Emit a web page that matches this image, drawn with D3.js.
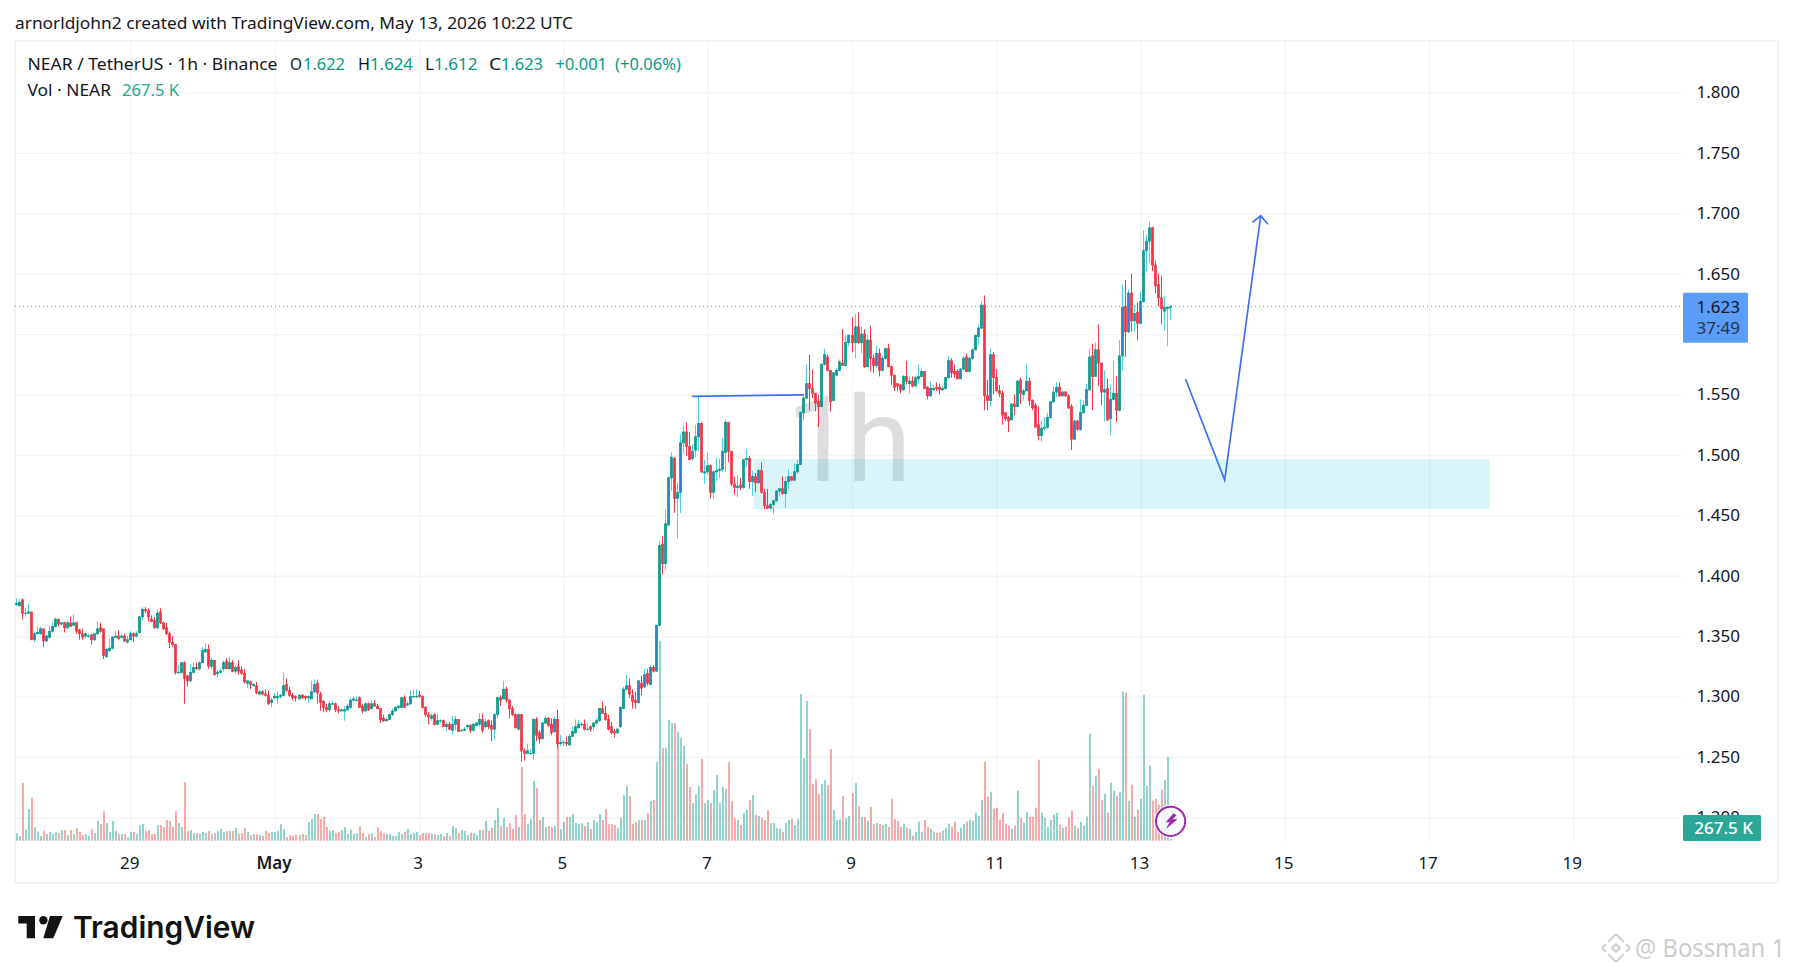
<!DOCTYPE html>
<html>
<head>
<meta charset="utf-8">
<title>NEAR / TetherUS</title>
<script src="https://cdn.jsdelivr.net/npm/d3@7"></script>
<style>
  html, body { margin: 0; padding: 0; background: #fff; }
  svg { display: block; }
  text { font-family: "Noto Sans", sans-serif; }
</style>
</head>
<body>
<svg id="chart" width="1793" height="973"></svg>
<script>
// hourly candles, first one is Apr 27 2026 10:00 UTC
const firstBar = Date.UTC(2026, 3, 27, 10);

const opens = [
1.376,1.375,1.380,1.369,1.369,1.370,1.347,1.352,1.352,1.356,1.346,1.349,1.354,1.358,1.364,1.360,1.361,1.357,1.361,1.359,
1.361,1.355,1.352,1.350,1.350,1.351,1.347,1.352,1.357,1.356,1.333,1.338,1.340,1.349,1.350,1.349,1.350,1.345,1.347,1.352,
1.350,1.353,1.366,1.372,1.371,1.364,1.363,1.357,1.370,1.361,1.357,1.352,1.345,1.343,1.320,1.320,1.328,1.317,1.313,1.320,
1.324,1.323,1.328,1.337,1.339,1.325,1.330,1.319,1.320,1.323,1.329,1.323,1.328,1.321,1.325,1.322,1.319,1.311,1.312,1.309,
1.309,1.302,1.304,1.302,1.301,1.295,1.299,1.299,1.300,1.301,1.310,1.305,1.301,1.300,1.298,1.301,1.300,1.299,1.298,1.304,
1.311,1.302,1.296,1.291,1.289,1.294,1.294,1.289,1.288,1.288,1.289,1.291,1.297,1.297,1.299,1.292,1.288,1.294,1.290,1.294,
1.292,1.290,1.282,1.280,1.281,1.285,1.288,1.291,1.291,1.299,1.293,1.294,1.300,1.300,1.301,1.300,1.291,1.285,1.282,1.285,
1.277,1.280,1.280,1.275,1.277,1.272,1.277,1.281,1.272,1.272,1.275,1.276,1.272,1.276,1.277,1.281,1.275,1.280,1.276,1.273,
1.285,1.299,1.298,1.306,1.297,1.290,1.285,1.273,1.285,1.255,1.253,1.253,1.253,1.281,1.270,1.265,1.278,1.282,1.277,1.271,
1.281,1.261,1.262,1.262,1.260,1.267,1.270,1.274,1.277,1.277,1.273,1.275,1.275,1.278,1.280,1.290,1.286,1.281,1.275,1.271,
1.270,1.275,1.290,1.306,1.309,1.301,1.297,1.295,1.311,1.308,1.319,1.310,1.324,1.321,1.359,1.426,1.410,1.442,1.481,1.497,
1.464,1.469,1.510,1.519,1.507,1.497,1.504,1.515,1.526,1.485,1.486,1.491,1.469,1.486,1.487,1.488,1.502,1.527,1.503,1.476,
1.473,1.475,1.473,1.496,1.497,1.478,1.482,1.477,1.487,1.469,1.458,1.456,1.459,1.462,1.470,1.472,1.468,1.478,1.482,1.479,
1.486,1.492,1.535,1.547,1.559,1.555,1.551,1.544,1.540,1.575,1.581,1.570,1.545,1.566,1.570,1.576,1.574,1.593,1.599,1.593,
1.606,1.593,1.600,1.573,1.595,1.580,1.574,1.584,1.570,1.580,1.588,1.573,1.566,1.559,1.558,1.554,1.565,1.559,1.561,1.557,
1.563,1.565,1.569,1.556,1.549,1.554,1.556,1.556,1.554,1.555,1.564,1.578,1.569,1.569,1.563,1.571,1.581,1.569,1.580,1.587,
1.598,1.605,1.624,1.549,1.545,1.583,1.564,1.553,1.551,1.535,1.531,1.529,1.542,1.540,1.562,1.550,1.553,1.561,1.545,1.541,
1.525,1.516,1.522,1.523,1.531,1.544,1.552,1.556,1.549,1.552,1.549,1.540,1.513,1.528,1.521,1.535,1.541,1.554,1.582,1.565,
1.587,1.576,1.552,1.555,1.530,1.546,1.551,1.537,1.582,1.623,1.602,1.634,1.611,1.618,1.609,1.627,1.669,1.677,1.688,1.657,
1.641,1.630,1.619,1.621,1.622
];
const closes = [
1.377,1.378,1.369,1.369,1.370,1.347,1.352,1.353,1.356,1.346,1.350,1.354,1.358,1.364,1.360,1.361,1.357,1.361,1.358,1.361,
1.354,1.352,1.349,1.352,1.350,1.347,1.352,1.356,1.354,1.334,1.339,1.340,1.349,1.350,1.348,1.350,1.346,1.347,1.352,1.350,
1.352,1.366,1.372,1.371,1.366,1.362,1.357,1.369,1.361,1.356,1.352,1.345,1.343,1.320,1.320,1.328,1.315,1.313,1.320,1.324,
1.323,1.328,1.338,1.339,1.325,1.330,1.318,1.320,1.321,1.328,1.323,1.328,1.321,1.324,1.321,1.319,1.312,1.313,1.310,1.310,
1.303,1.304,1.302,1.301,1.294,1.297,1.300,1.300,1.301,1.309,1.305,1.301,1.299,1.299,1.301,1.299,1.299,1.300,1.304,1.310,
1.303,1.295,1.291,1.289,1.294,1.294,1.289,1.288,1.289,1.289,1.292,1.297,1.298,1.297,1.291,1.288,1.294,1.289,1.294,1.292,
1.290,1.281,1.280,1.281,1.285,1.288,1.291,1.292,1.299,1.291,1.294,1.300,1.300,1.300,1.300,1.291,1.285,1.283,1.284,1.277,
1.280,1.280,1.275,1.277,1.273,1.277,1.281,1.271,1.272,1.273,1.276,1.272,1.277,1.278,1.281,1.272,1.279,1.275,1.273,1.285,
1.299,1.297,1.306,1.297,1.290,1.285,1.274,1.285,1.255,1.253,1.255,1.253,1.281,1.268,1.265,1.278,1.282,1.276,1.270,1.281,
1.261,1.262,1.262,1.261,1.267,1.271,1.275,1.277,1.277,1.273,1.273,1.273,1.278,1.280,1.290,1.286,1.281,1.273,1.270,1.270,
1.273,1.291,1.306,1.309,1.302,1.296,1.295,1.313,1.307,1.318,1.311,1.324,1.321,1.359,1.425,1.410,1.443,1.481,1.498,1.464,
1.469,1.510,1.519,1.507,1.496,1.503,1.515,1.526,1.486,1.486,1.491,1.469,1.486,1.487,1.488,1.503,1.527,1.503,1.476,1.473,
1.474,1.473,1.496,1.497,1.478,1.482,1.477,1.487,1.469,1.458,1.456,1.459,1.462,1.470,1.472,1.468,1.478,1.482,1.479,1.486,
1.492,1.535,1.547,1.559,1.555,1.551,1.543,1.540,1.575,1.583,1.570,1.544,1.568,1.570,1.577,1.574,1.593,1.599,1.593,1.606,
1.593,1.600,1.573,1.595,1.580,1.574,1.584,1.570,1.580,1.588,1.573,1.566,1.556,1.557,1.554,1.565,1.561,1.561,1.557,1.564,
1.565,1.569,1.555,1.549,1.555,1.555,1.555,1.554,1.555,1.564,1.578,1.568,1.567,1.563,1.571,1.580,1.569,1.580,1.587,1.599,
1.605,1.624,1.549,1.545,1.583,1.564,1.553,1.551,1.533,1.530,1.528,1.542,1.540,1.561,1.551,1.553,1.561,1.545,1.539,1.523,
1.516,1.522,1.523,1.531,1.544,1.552,1.556,1.549,1.552,1.549,1.539,1.513,1.528,1.521,1.535,1.541,1.554,1.581,1.565,1.587,
1.576,1.552,1.554,1.529,1.546,1.551,1.537,1.582,1.622,1.602,1.634,1.611,1.617,1.609,1.627,1.669,1.677,1.688,1.657,1.640,
1.630,1.621,1.622,1.622,1.623
];
const highs = [
1.381,1.381,1.381,1.373,1.377,1.370,1.354,1.358,1.358,1.356,1.351,1.358,1.361,1.365,1.364,1.361,1.362,1.363,1.366,1.368,
1.362,1.356,1.356,1.352,1.352,1.352,1.352,1.362,1.361,1.356,1.340,1.348,1.350,1.354,1.355,1.352,1.352,1.350,1.354,1.353,
1.354,1.366,1.374,1.374,1.373,1.367,1.366,1.372,1.373,1.362,1.361,1.354,1.350,1.343,1.326,1.328,1.329,1.318,1.327,1.328,
1.328,1.329,1.341,1.344,1.343,1.332,1.330,1.322,1.323,1.330,1.332,1.333,1.330,1.326,1.330,1.325,1.323,1.314,1.313,1.311,
1.312,1.305,1.305,1.306,1.305,1.299,1.303,1.304,1.302,1.320,1.315,1.308,1.303,1.301,1.302,1.302,1.301,1.301,1.313,1.314,
1.314,1.304,1.297,1.294,1.296,1.296,1.295,1.292,1.290,1.292,1.294,1.299,1.300,1.300,1.300,1.294,1.295,1.295,1.297,1.297,
1.294,1.290,1.285,1.282,1.286,1.290,1.292,1.293,1.300,1.301,1.296,1.305,1.306,1.306,1.305,1.301,1.292,1.287,1.286,1.286,
1.286,1.281,1.281,1.279,1.279,1.284,1.284,1.281,1.273,1.275,1.277,1.277,1.278,1.279,1.286,1.286,1.282,1.281,1.280,1.286,
1.300,1.301,1.313,1.308,1.298,1.292,1.286,1.286,1.285,1.257,1.261,1.256,1.282,1.283,1.272,1.279,1.284,1.283,1.282,1.283,
1.289,1.268,1.264,1.267,1.269,1.275,1.281,1.281,1.279,1.281,1.278,1.276,1.279,1.282,1.290,1.296,1.292,1.285,1.279,1.273,
1.274,1.292,1.308,1.318,1.315,1.306,1.304,1.313,1.317,1.323,1.323,1.326,1.326,1.359,1.429,1.433,1.455,1.482,1.502,1.498,
1.477,1.517,1.524,1.527,1.519,1.509,1.525,1.548,1.527,1.496,1.502,1.492,1.487,1.498,1.497,1.514,1.529,1.527,1.503,1.482,
1.483,1.481,1.496,1.505,1.499,1.487,1.485,1.488,1.494,1.472,1.472,1.460,1.463,1.471,1.473,1.482,1.482,1.488,1.482,1.493,
1.496,1.536,1.550,1.575,1.583,1.571,1.551,1.550,1.576,1.588,1.583,1.570,1.568,1.572,1.579,1.604,1.599,1.600,1.614,1.617,
1.618,1.606,1.604,1.599,1.607,1.583,1.590,1.588,1.582,1.589,1.592,1.574,1.566,1.559,1.558,1.566,1.578,1.565,1.565,1.566,
1.575,1.571,1.569,1.557,1.561,1.558,1.560,1.559,1.557,1.564,1.582,1.580,1.575,1.571,1.572,1.582,1.584,1.581,1.588,1.599,
1.608,1.627,1.632,1.562,1.588,1.585,1.571,1.558,1.553,1.535,1.532,1.543,1.550,1.562,1.564,1.555,1.575,1.564,1.546,1.543,
1.540,1.528,1.531,1.535,1.544,1.557,1.560,1.560,1.553,1.553,1.550,1.542,1.529,1.529,1.546,1.545,1.559,1.588,1.592,1.593,
1.608,1.576,1.570,1.563,1.558,1.578,1.565,1.595,1.641,1.645,1.637,1.650,1.624,1.626,1.635,1.686,1.682,1.693,1.689,1.661,
1.650,1.648,1.632,1.623,1.624
];
const lows = [
1.375,1.375,1.364,1.366,1.368,1.347,1.345,1.352,1.351,1.341,1.345,1.348,1.353,1.357,1.358,1.359,1.353,1.355,1.358,1.359,
1.352,1.347,1.347,1.348,1.349,1.343,1.346,1.351,1.353,1.331,1.332,1.337,1.339,1.349,1.347,1.348,1.345,1.344,1.347,1.345,
1.349,1.352,1.363,1.369,1.362,1.362,1.356,1.356,1.360,1.355,1.351,1.340,1.341,1.318,1.319,1.319,1.294,1.308,1.312,1.319,
1.322,1.321,1.328,1.336,1.323,1.323,1.318,1.316,1.319,1.321,1.323,1.322,1.320,1.319,1.318,1.318,1.311,1.307,1.306,1.308,
1.302,1.301,1.301,1.300,1.293,1.291,1.298,1.294,1.298,1.300,1.304,1.300,1.297,1.296,1.298,1.298,1.297,1.295,1.298,1.303,
1.294,1.288,1.287,1.287,1.287,1.293,1.287,1.286,1.288,1.280,1.288,1.290,1.296,1.296,1.291,1.286,1.288,1.288,1.289,1.292,
1.290,1.278,1.279,1.279,1.281,1.284,1.288,1.290,1.290,1.291,1.292,1.293,1.299,1.299,1.299,1.290,1.283,1.277,1.280,1.276,
1.276,1.278,1.275,1.271,1.272,1.268,1.272,1.271,1.271,1.272,1.273,1.270,1.271,1.275,1.275,1.270,1.274,1.273,1.263,1.264,
1.282,1.292,1.298,1.295,1.282,1.284,1.274,1.272,1.246,1.247,1.252,1.252,1.248,1.263,1.261,1.265,1.277,1.275,1.268,1.270,
1.257,1.259,1.259,1.259,1.259,1.267,1.269,1.274,1.275,1.272,1.272,1.271,1.272,1.277,1.279,1.286,1.280,1.272,1.269,1.266,
1.269,1.274,1.290,1.305,1.299,1.290,1.290,1.294,1.301,1.307,1.309,1.309,1.320,1.320,1.358,1.401,1.405,1.441,1.470,1.452,
1.431,1.452,1.501,1.499,1.496,1.495,1.498,1.503,1.485,1.476,1.483,1.464,1.464,1.478,1.481,1.486,1.486,1.494,1.474,1.467,
1.465,1.471,1.472,1.490,1.472,1.466,1.469,1.476,1.468,1.455,1.455,1.455,1.451,1.461,1.466,1.467,1.456,1.472,1.479,1.479,
1.484,1.492,1.529,1.546,1.537,1.547,1.536,1.523,1.540,1.574,1.569,1.536,1.544,1.565,1.569,1.574,1.573,1.590,1.585,1.580,
1.592,1.584,1.572,1.573,1.569,1.568,1.572,1.565,1.569,1.579,1.573,1.558,1.553,1.553,1.551,1.553,1.558,1.551,1.556,1.557,
1.559,1.564,1.555,1.546,1.548,1.553,1.553,1.550,1.553,1.554,1.563,1.564,1.564,1.563,1.563,1.570,1.569,1.569,1.579,1.587,
1.591,1.604,1.537,1.537,1.540,1.550,1.553,1.548,1.525,1.528,1.519,1.529,1.533,1.540,1.542,1.545,1.553,1.541,1.537,1.523,
1.512,1.511,1.520,1.521,1.530,1.543,1.548,1.548,1.548,1.548,1.538,1.504,1.512,1.520,1.520,1.534,1.540,1.553,1.537,1.565,
1.557,1.541,1.528,1.528,1.516,1.545,1.527,1.536,1.570,1.581,1.601,1.602,1.602,1.595,1.608,1.626,1.652,1.659,1.652,1.634,
1.623,1.608,1.603,1.590,1.612
];
// volume in thousands of NEAR
const volumes = [
1100,700,8650,1700,4750,6400,2000,1350,700,1450,1000,1300,1000,1250,1150,1600,1600,850,1600,1000,
1900,1300,850,1000,700,1750,1150,2950,2500,4450,2650,1300,2950,1450,1000,1000,1000,550,1300,1300,
1000,2350,2500,1450,1600,1000,1000,2350,2350,2050,3100,2950,2050,4450,2650,2050,8800,1450,1600,1150,
1150,1000,1300,1150,1450,1000,1150,1450,1750,1300,1450,1450,1450,1900,1000,1150,1900,1300,850,1000,
1000,850,700,1450,1150,1300,1300,1450,2500,1750,550,850,700,850,850,1000,850,2800,3250,4000,
4000,3250,3550,2050,1450,1600,1150,1300,1600,2050,1000,1600,1000,1150,2200,1150,550,1000,1150,550,
2050,1450,1150,1000,1000,700,700,1300,1000,1300,1750,1000,1150,1300,850,1150,1150,1150,1000,1000,
850,1000,700,1150,700,2200,1900,1150,1600,1450,850,1150,1150,850,1600,1600,2950,1450,1900,3100,
4900,2200,3400,2050,2650,1750,3850,2050,11050,4000,2500,3250,8950,7900,3100,3550,2050,2200,2050,2200,
14600,1750,2800,3550,3550,4000,2650,2500,2650,2200,2800,1750,3100,2800,4000,3100,4750,2500,2500,2350,
1900,3400,6850,8200,6700,2500,2800,3100,3100,3100,4150,5950,6100,11800,29950,13900,13900,18100,17650,17650,
16300,15400,14200,11500,8050,5650,7000,8200,12250,5650,6100,5650,7600,9850,5650,8050,7750,11800,5950,3400,
3100,2350,4150,4600,6100,6850,3850,3700,3400,3100,4600,2650,2650,1900,1750,1300,2650,3100,3250,2350,
3250,22000,12400,20950,16750,8500,9250,7000,8500,9100,8350,13750,4600,3100,3250,6700,3400,3700,7150,8650,
5200,3550,3550,2950,5050,2500,2650,2500,2350,2500,2050,6250,3250,3000,2100,2550,1950,1800,750,1350,
2850,1350,3150,2100,1800,1350,1200,1200,1500,1950,2550,2100,2850,1350,1950,2550,2850,3150,3000,4200,
3750,6150,11850,6600,7350,4800,4950,3150,4200,2550,2250,1800,2250,7500,3450,2700,4350,3600,3600,4950,
12150,4200,3450,2100,3150,3900,4200,2400,1950,2100,3450,4500,2250,1950,2850,2250,3600,16050,8250,9750,
10800,6150,7050,4200,8700,7500,6750,7350,22350,22200,6000,8400,3600,4650,6300,21900,8250,11250,6000,6300,
5400,7650,9150,12600,267.5
];

const dayTicks = [
  Date.UTC(2026, 3, 29), Date.UTC(2026, 4, 1), Date.UTC(2026, 4, 3), Date.UTC(2026, 4, 5), Date.UTC(2026, 4, 7),
  Date.UTC(2026, 4, 9), Date.UTC(2026, 4, 11), Date.UTC(2026, 4, 13), Date.UTC(2026, 4, 15), Date.UTC(2026, 4, 17),
  Date.UTC(2026, 4, 19)
];
const priceTicks = [1.2, 1.25, 1.3, 1.35, 1.4, 1.45, 1.5, 1.55, 1.6, 1.65, 1.7, 1.75, 1.8];
const lastPrice = 1.623;
const lastVolume = 267.5;

// drawings on the chart, [bar number, price]
const resistanceLine = [[224.8, 1.5484], [261.9, 1.5497]];
const forecastLine = [[389, 1.5626], [402, 1.4792], [414, 1.698]];
const arrowHead = [[411.2, 1.6925], [414, 1.698], [416.4, 1.6909]];
const zoneBars = [245.2, 490.2];
const zonePrices = [1.4966, 1.4552];

const ink = "#131722";
const teal = "#089981";
const gridColor = "#f1f3f6";
const blue = "#5b9cf6";
const lineBlue = "#3f6ff2";

const svg = d3.select("#chart");
const barTime = i => new Date(firstBar + i * 3600000);

const x = d3.scaleUtc()
  .domain([new Date(dayTicks[0]), new Date(dayTicks[10])])
  .range([130.7, 1573.3]);
const y = d3.scaleLinear().domain([1.2, 1.8]).range([817.3, 92.5]);
const yVol = d3.scaleLinear().domain([0, 30000]).range([840.7, 640.7]);

const bars = opens.map((o, i) => ({
  i: i, o: o, c: closes[i], h: highs[i], l: lows[i], v: volumes[i],
  up: closes[i] >= o,
  px: Math.floor(x(barTime(i))) + 0.5
}));

// title above the frame
function label(txt, px, py, width, color, size) {
  return svg.append("text")
    .attr("x", px).attr("y", py)
    .attr("font-size", size || 16)
    .attr("fill", color || ink)
    .attr("textLength", width)
    .attr("lengthAdjust", "spacingAndGlyphs")
    .text(txt);
}
label("arnorldjohn2 created with TradingView.com, May 13, 2026 10:22 UTC", 15, 28.5, 558, ink, 16);

svg.append("rect")
  .attr("x", 15).attr("y", 41).attr("width", 1763).attr("height", 842)
  .attr("fill", "#fff").attr("stroke", "#f2f3f5").attr("stroke-width", 2);

// grid comes from the axes with long ticks
svg.append("g")
  .attr("transform", "translate(0,841)")
  .call(d3.axisTop(x).tickValues(dayTicks.map(d => new Date(d))).tickSize(800).tickFormat(""))
  .call(g => g.select(".domain").remove())
  .call(g => g.selectAll("line").attr("stroke", gridColor).attr("stroke-width", 1.2));
svg.append("g")
  .attr("transform", "translate(15,0)")
  .call(d3.axisRight(y).tickValues(priceTicks).tickSize(1667).tickFormat(""))
  .call(g => g.select(".domain").remove())
  .call(g => g.selectAll("line").attr("stroke", gridColor).attr("stroke-width", 1.2));

// big interval watermark
svg.append("text")
  .attr("x", 786).attr("y", 481)
  .attr("font-size", 119)
  .attr("letter-spacing", -7)
  .attr("fill", "#dddde0")
  .style("font-family", "Roboto, sans-serif")
  .text("1h");

// demand zone
svg.append("rect")
  .attr("x", x(barTime(zoneBars[0])))
  .attr("y", y(zonePrices[0]))
  .attr("width", x(barTime(zoneBars[1])) - x(barTime(zoneBars[0])))
  .attr("height", y(zonePrices[1]) - y(zonePrices[0]))
  .attr("fill", "#00bcd4")
  .attr("fill-opacity", 0.145);

// volume
svg.append("g").selectAll("rect")
  .data(bars)
  .enter()
  .append("rect")
  .attr("x", d => d.px - 0.5)
  .attr("y", d => yVol(d.v))
  .attr("width", 2)
  .attr("height", d => yVol(0) - yVol(d.v))
  .attr("fill", d => d.up ? "rgba(38,166,154,0.5)" : "rgba(239,83,80,0.5)");

// candles
const candle = svg.append("g").selectAll("g")
  .data(bars)
  .enter()
  .append("g");
candle.append("line")
  .attr("x1", d => d.px).attr("x2", d => d.px)
  .attr("y1", d => y(d.h)).attr("y2", d => y(d.l))
  .attr("stroke", d => d.up ? "#4dd0e1" : "#f23645")
  .attr("stroke-width", 1);
candle.append("rect")
  .attr("x", d => d.px - 0.85)
  .attr("y", d => y(Math.max(d.o, d.c)))
  .attr("width", 1.7)
  .attr("height", d => Math.max(0.4, Math.abs(y(d.o) - y(d.c))))
  .attr("fill", d => d.up ? "#2f86d6" : "#f23645")
  .attr("stroke", d => d.up ? teal : "#f23645")
  .attr("stroke-width", 0.9);

// last price line
svg.append("line")
  .attr("x1", 15).attr("x2", 1682)
  .attr("y1", y(lastPrice)).attr("y2", y(lastPrice))
  .attr("stroke", blue)
  .attr("stroke-width", 1)
  .attr("stroke-dasharray", "1 3");

// hand drawn lines
const drawn = d3.line().x(d => x(barTime(d[0]))).y(d => y(d[1]));
[resistanceLine, forecastLine, arrowHead].forEach(pts => {
  svg.append("path")
    .attr("d", drawn(pts))
    .attr("fill", "none")
    .attr("stroke", lineBlue)
    .attr("stroke-width", 1.7);
});

// axes
svg.append("g")
  .attr("transform", "translate(-1.5,857)")
  .call(d3.axisBottom(x)
    .tickValues(dayTicks.map(d => new Date(d)))
    .tickSize(0).tickPadding(0)
    .tickFormat(d => d.getUTCDate() === 1 ? "May" : String(d.getUTCDate())))
  .call(g => g.select(".domain").remove())
  .call(g => g.selectAll("text")
    .attr("font-size", 17)
    .attr("fill", ink)
    .style("font-family", "'Noto Sans', sans-serif")
    .attr("font-weight", d => new Date(d).getUTCDate() === 1 ? 600 : 400));
svg.append("g")
  .attr("transform", "translate(1740,0)")
  .call(d3.axisLeft(y).tickValues(priceTicks).tickSize(0).tickPadding(0).tickFormat(d3.format(".3f")))
  .call(g => g.select(".domain").remove())
  .call(g => g.selectAll("text")
    .attr("font-size", 17)
    .attr("fill", ink)
    .style("font-family", "'Noto Sans', sans-serif"));

// price and volume tags on the right
svg.append("rect")
  .attr("x", 1683).attr("y", y(lastPrice) - 13.6).attr("width", 65).attr("height", 50)
  .attr("rx", 1.5).attr("fill", blue);
svg.append("text").attr("x", 1740).attr("y", y(lastPrice) + 6.5)
  .attr("text-anchor", "end").attr("font-size", 17).attr("fill", ink)
  .text(d3.format(".3f")(lastPrice));
svg.append("text").attr("x", 1740).attr("y", y(lastPrice) + 27.5)
  .attr("text-anchor", "end").attr("font-size", 17).attr("fill", "#2a3347")
  .text("37:49");

svg.append("rect")
  .attr("x", 1683).attr("y", 815).attr("width", 78).attr("height", 26)
  .attr("rx", 1.5).attr("fill", "#2ba797");
svg.append("text").attr("x", 1753).attr("y", 834)
  .attr("text-anchor", "end").attr("font-size", 17).attr("font-weight", 500).attr("fill", "#fff")
  .text(lastVolume + " K");

// legend
label("NEAR / TetherUS · 1h · Binance", 27.5, 69.5, 250);
label("O", 290, 69.5, 12);
label("1.622", 303, 69.5, 42, teal);
label("H", 358, 69.5, 12);
label("1.624", 370, 69.5, 43, teal);
label("L", 425, 69.5, 9);
label("1.612", 434, 69.5, 43.5, teal);
label("C", 489, 69.5, 12);
label("1.623", 501, 69.5, 42, teal);
label("+0.001", 555.5, 69.5, 51.5, teal);
label("(+0.06%)", 615, 69.5, 66, teal);
label("Vol · NEAR", 27.5, 95.5, 83.5);
label("267.5 K", 122, 95.5, 57, "#22ab94");

// lightning badge on the last bar
const badge = svg.append("g")
  .attr("transform", "translate(" + x(barTime(opens.length - 1)) + ",821.3)");
badge.append("circle").attr("r", 16.5).attr("fill", "#fff").attr("fill-opacity", 0.85);
badge.append("circle").attr("r", 14.6).attr("fill", "none").attr("stroke", "#9c27b0").attr("stroke-width", 2);
badge.append("path")
  .attr("d", "M3,-8 L-5,1 L-1,1 L-5,8 L7,-2 L2,-2 L6,-6 Z")
  .attr("fill", "#9c27b0");

// TradingView logo
const logo = svg.append("g").attr("fill", "#131313");
logo.append("path").attr("d", "M18.3,916 H35 V938.3 H26.7 V923.4 H18.3 Z");
logo.append("circle").attr("cx", 43.4).attr("cy", 920.2).attr("r", 4.2);
logo.append("path").attr("d", "M50,916 H62.7 L53.3,938.3 H43.3 Z");
svg.append("text")
  .attr("x", 73).attr("y", 938)
  .attr("font-size", 30)
  .attr("font-weight", 600)
  .attr("fill", "#131313")
  .attr("textLength", 182)
  .attr("lengthAdjust", "spacingAndGlyphs")
  .style("font-family", "Inter, sans-serif")
  .text("TradingView");

// repost watermark bottom right
const wm = svg.append("g")
  .attr("transform", "translate(1616,948)")
  .attr("fill", "none").attr("stroke", "#cfcfcf").attr("stroke-width", 2);
wm.append("path").attr("d", "M0,-14 L8,-6 M0,-14 L-8,-6 M0,14 L8,6 M0,14 L-8,6 M-14,0 L-10,-4 M-14,0 L-10,4 M14,0 L10,-4 M14,0 L10,4");
wm.append("path").attr("d", "M0,-4 L4,0 L0,4 L-4,0 Z");
svg.append("text")
  .attr("x", 1635).attr("y", 957)
  .attr("font-size", 24.5)
  .attr("fill", "#cdcdcd")
  .attr("textLength", 150)
  .attr("lengthAdjust", "spacingAndGlyphs")
  .text("@ Bossman 1");
</script>
</body>
</html>
